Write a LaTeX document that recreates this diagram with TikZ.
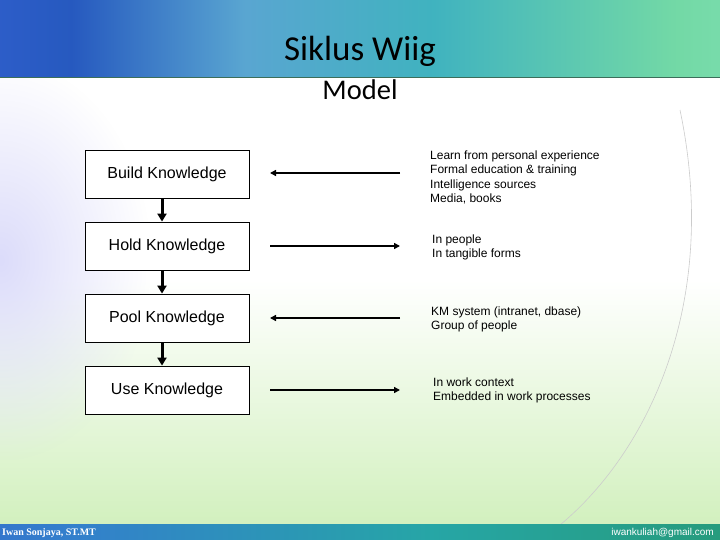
\documentclass[tikz,border=0pt]{standalone}
\usepackage{fontspec}
\setmainfont{Liberation Sans}
\newfontfamily\titlefont{Carlito}
\newfontfamily\footfont{Liberation Serif}
\usetikzlibrary{arrows.meta,fadings}
\definecolor{bandline}{RGB}{60,110,90}
\definecolor{lightgreen}{RGB}{210,240,190}
\definecolor{lightlav}{RGB}{220,220,250}
\tikzfading[name=blobfade, inner color=transparent!0, outer color=transparent!100]
\pgfdeclarehorizontalshading{topband}{100bp}{
  rgb(0bp)=(0.30,0.28,0.88);
  rgb(8bp)=(0.22,0.30,0.85);
  rgb(20bp)=(0.20,0.38,0.82);
  rgb(30bp)=(0.15,0.35,0.75);
  rgb(42bp)=(0.35,0.65,0.82);
  rgb(55bp)=(0.25,0.70,0.75);
  rgb(72bp)=(0.45,0.85,0.65);
  rgb(88bp)=(0.55,0.90,0.75);
  rgb(100bp)=(0.45,0.85,0.85)}
\pgfdeclarehorizontalshading{botband}{100bp}{
  rgb(0bp)=(0.22,0.30,0.80);
  rgb(30bp)=(0.20,0.50,0.80);
  rgb(55bp)=(0.15,0.65,0.65);
  rgb(80bp)=(0.15,0.60,0.45);
  rgb(100bp)=(0.10,0.50,0.30)}
\tikzset{
  kbox/.style={draw=black, line width=0.8pt, fill=white, minimum width=164pt, minimum height=48pt, inner sep=0pt, font=\fontsize{16}{18}\selectfont},
  harrow/.style={line width=1.8pt, -{Triangle[length=6pt,width=6pt]}},
  varrow/.style={line width=3pt, -{Triangle[length=8pt,width=9pt]}},
  src/.style={anchor=north west, align=left, inner sep=0pt, font=\fontsize{12}{14.4}\selectfont}
}
\begin{document}
\begin{tikzpicture}[x=1pt,y=-1pt]
\useasboundingbox (0,0) rectangle (720,540);
% body background
\fill[white] (0,0) rectangle (720,540);
\shade[top color=white, bottom color=lightgreen] (0,280) rectangle (720,525);
\fill[lightlav, path fading=blobfade] (-150,60) rectangle (150,460);
\draw[gray!40, line width=0.6pt] (680,110) .. controls (720,300) and (650,450) .. (560,525);
% top band
\shade[shading=topband] (0,0) rectangle (720,78);
\draw[bandline, line width=1pt] (0,78) -- (720,78);
% bottom band
\shade[shading=botband] (0,524) rectangle (720,540);
% titles
\node[font=\titlefont\fontsize{35}{38}\selectfont] (title) at (360,51) {Siklus Wiig};
\node[font=\titlefont\fontsize{28.5}{30}\selectfont] (sub) at (360,90) {Model};
% boxes
\node[kbox] (build) at (167,174.5) {Build Knowledge};
\node[kbox] (hold) at (167,246) {Hold Knowledge};
\node[kbox] (pool) at (167,318) {Pool Knowledge};
\node[kbox] (use) at (167,390) {Use Knowledge};
\draw[varrow] (build.south -| 162,0) -- (hold.north -| 162,0);
\draw[varrow] (hold.south -| 162,0) -- (pool.north -| 162,0);
\draw[varrow] (pool.south -| 162,0) -- (use.north -| 162,0);
% sources
\node[src] (s1) at (430,150.5) {Learn from personal experience\\Formal education \& training\\Intelligence sources\\Media, books};
\node[src] (s2) at (432,234.5) {In people\\In tangible forms};
\node[src] (s3) at (431,306.5) {KM system (intranet, dbase)\\Group of people};
\node[src] (s4) at (433,377.5) {In work context\\Embedded in work processes};
\coordinate (a1r) at (400,173);
\coordinate (a1l) at (270,173);
\coordinate (a2l) at (270,246);
\coordinate (a2r) at (400,246);
\coordinate (a3r) at (400,318);
\coordinate (a3l) at (270,318);
\coordinate (a4l) at (270,390);
\coordinate (a4r) at (400,390);
\draw[harrow] (a1r) -- (a1l);
\draw[harrow] (a2l) -- (a2r);
\draw[harrow] (a3r) -- (a3l);
\draw[harrow] (a4l) -- (a4r);
% footer
\node[anchor=west, text=white, font=\footfont\bfseries\fontsize{10}{11}\selectfont, inner sep=0pt] (author) at (2,533) {Iwan Sonjaya, ST.MT};
\node[anchor=east, text=white, font=\fontsize{10}{11}\selectfont, inner sep=0pt] (mail) at (714,533) {iwankuliah@gmail.com};
\end{tikzpicture}
\end{document}
